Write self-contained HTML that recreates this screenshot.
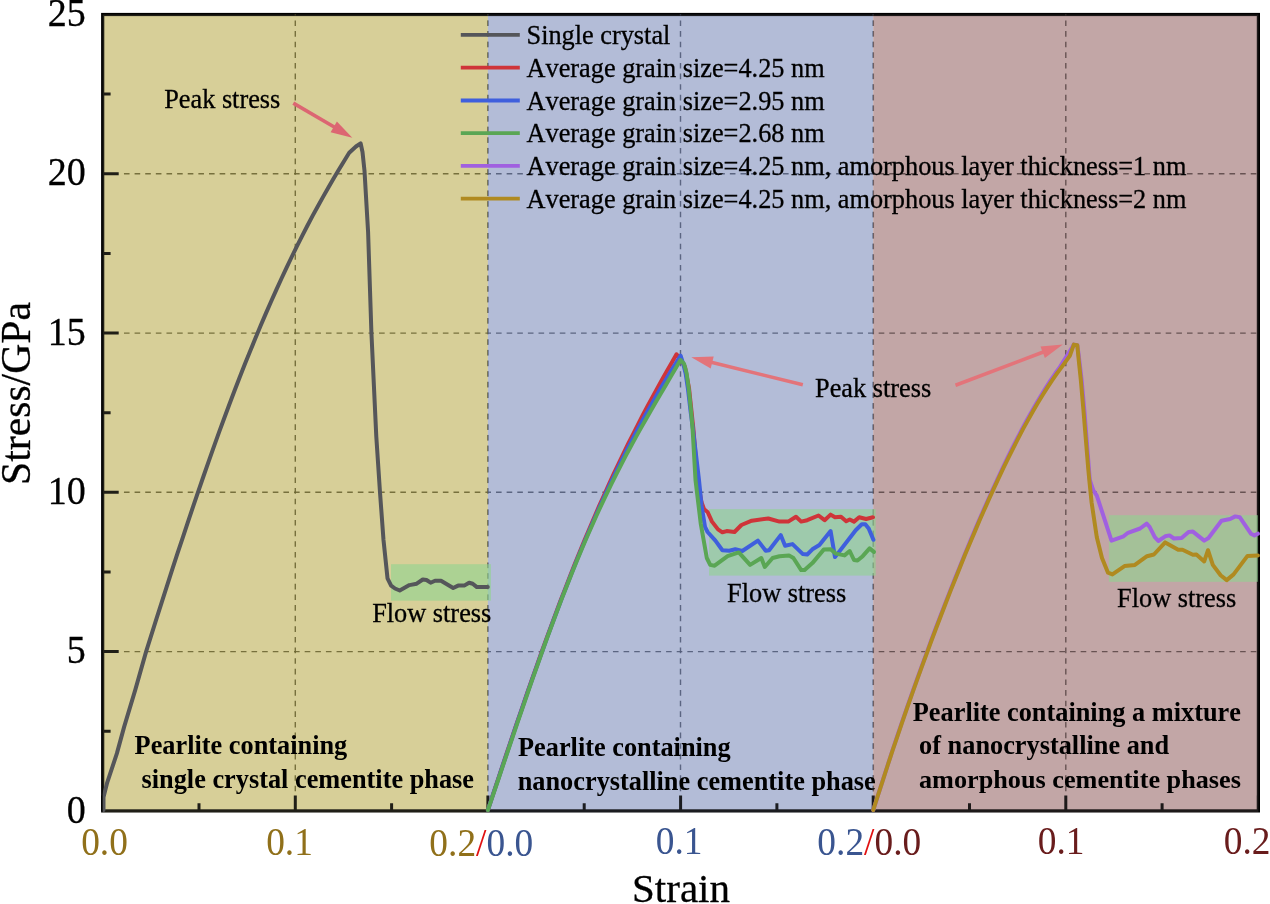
<!DOCTYPE html>
<html lang="en"><head><meta charset="utf-8"><title>Stress-strain curves</title>
<style>html,body{margin:0;padding:0;background:#fff}body{width:1270px;height:904px;overflow:hidden}svg{display:block}.k{stroke:#000;stroke-width:.3px}text{font-family:"Liberation Serif",serif;font-kerning:none;font-variant-ligatures:none}</style></head><body>
<svg width="1270" height="904" viewBox="0 0 1270 904">
<rect width="1270" height="904" fill="#fff"/>
<rect x="102.7" y="14.5" width="385.2" height="796.4" fill="#d7cf98"/>
<rect x="487.9" y="14.5" width="385.3" height="796.4" fill="#b3bdd8"/>
<rect x="873.2" y="14.5" width="385.2" height="796.4" fill="#c2a6a6"/>
<path d="M102.7 651.6h16M102.7 492.3h16M102.7 333.1h16M102.7 173.8h16M102.7 731.3h7.9M102.7 572.0h7.9M102.7 412.7h7.9M102.7 253.4h7.9M102.7 94.1h7.9M102.7 810.9v-15.5M199.0 810.9v-7.7M295.3 810.9v-15.5M391.6 810.9v-7.7M487.9 810.9v-15.5M584.2 810.9v-7.7M680.6 810.9v-15.5M776.9 810.9v-7.7M873.2 810.9v-15.5M969.5 810.9v-7.7M1065.8 810.9v-15.5M1162.1 810.9v-7.7M1258.4 810.9v-15.5" fill="none" stroke="#000" stroke-width="3"/>
<rect x="102.7" y="14.5" width="1155.7" height="796.4" fill="none" stroke="#000" stroke-width="3.2"/>
<rect x="102.7" y="14.5" width="385.2" height="798.0" fill="#d7cf98" fill-opacity="0.15"/>
<rect x="487.9" y="14.5" width="385.3" height="798.0" fill="#b3bdd8" fill-opacity="0.15"/>
<rect x="873.2" y="14.5" width="385.2" height="798.0" fill="#c2a6a6" fill-opacity="0.15"/>
<path d="M123.96 651.6H487.9M123.96 492.3H487.9M123.96 333.1H487.9M123.96 173.8H487.9" fill="none" stroke="#6a6330" stroke-opacity="0.88" stroke-width="1.4" stroke-dasharray="5.6 5.03" stroke-dashoffset="0.00"/>
<path d="M295.3 14.5V794.4" fill="none" stroke="#6a6330" stroke-opacity="0.88" stroke-width="1.4" stroke-dashoffset="4.73" stroke-dasharray="5.6 5.03"/>
<path d="M487.54 14.5V794.4" fill="none" stroke="#6a6330" stroke-opacity="1" stroke-width="0.75" stroke-dashoffset="4.73" stroke-dasharray="5.6 5.03"/>
<path d="M487.90 651.6H873.2M487.90 492.3H873.2M487.90 333.1H873.2M487.90 173.8H873.2" fill="none" stroke="#4f5975" stroke-opacity="0.88" stroke-width="1.4" stroke-dasharray="5.6 5.03" stroke-dashoffset="2.52"/>
<path d="M680.5 14.5V794.4" fill="none" stroke="#4f5975" stroke-opacity="0.88" stroke-width="1.4" stroke-dashoffset="4.73" stroke-dasharray="5.6 5.03"/>
<path d="M488.26 14.5V794.4M872.84 14.5V794.4" fill="none" stroke="#4f5975" stroke-opacity="1" stroke-width="0.75" stroke-dashoffset="4.73" stroke-dasharray="5.6 5.03"/>
<path d="M873.20 651.6H1258.4M873.20 492.3H1258.4M873.20 333.1H1258.4M873.20 173.8H1258.4" fill="none" stroke="#5a4747" stroke-opacity="0.88" stroke-width="1.4" stroke-dasharray="5.6 5.03" stroke-dashoffset="5.14"/>
<path d="M1065.8 14.5V794.4" fill="none" stroke="#5a4747" stroke-opacity="0.88" stroke-width="1.4" stroke-dashoffset="4.73" stroke-dasharray="5.6 5.03"/>
<path d="M873.56 14.5V794.4" fill="none" stroke="#5a4747" stroke-opacity="1" stroke-width="0.75" stroke-dashoffset="4.73" stroke-dasharray="5.6 5.03"/>
<rect x="391" y="564.2" width="100" height="36.5" fill="#8fd48f" fill-opacity="0.6"/>
<rect x="709" y="509.1" width="166.7" height="66.5" fill="#8fd48f" fill-opacity="0.6"/>
<rect x="1108.9" y="515.2" width="149" height="66.6" fill="#8fd48f" fill-opacity="0.6"/>
<g clip-path="url(#cp)">
<polyline points="103.5,810.0 103.5,797.2 107.2,782.6 116.9,753.4 124.2,726.6 135.2,690.1 146.1,651.6 151.3,635.1 156.5,618.7 161.7,602.3 166.9,586.1 172.1,569.9 177.3,553.9 182.6,538.1 187.8,522.4 193.0,506.9 198.2,491.6 203.4,476.5 208.6,461.6 213.8,446.9 219.0,432.4 224.2,418.2 229.4,404.2 234.6,390.5 239.8,377.0 245.0,363.7 250.3,350.8 255.5,338.1 260.7,325.6 265.9,313.4 271.1,301.5 276.3,289.9 281.5,278.5 286.7,267.4 291.9,256.5 297.1,245.9 302.3,235.6 307.5,225.5 312.7,215.6 318.0,206.0 323.2,196.6 328.4,187.5 333.6,178.5 338.8,169.7 344.0,161.2 349.2,152.8 356.0,146.5 360.6,143.3 362.5,152.0 364.5,170.9 368.1,232.2 371.4,332.5 376.3,436.7 380.0,492.3 383.5,540.0 387.5,578.3 391.1,585.6 395.0,588.5 399.7,590.5 409.4,585.1 416.7,583.7 422.8,579.5 426.5,580.0 430.6,582.7 435.0,580.7 441.0,580.7 453.2,588.0 458.1,585.6 464.2,585.6 469.1,582.7 472.7,583.7 476.9,587.1 487.8,587.1" fill="none" stroke="#55565a" stroke-width="4.0" stroke-linejoin="round" stroke-linecap="round"/>
<polyline points="487.9,810.0 492.7,795.3 497.6,780.7 502.4,766.1 507.2,751.6 512.1,737.2 516.9,722.9 521.8,708.8 526.6,694.7 531.4,680.8 536.3,667.1 541.1,653.5 545.9,640.1 550.8,626.9 555.6,613.9 560.4,601.0 565.3,588.4 570.1,576.0 574.9,563.8 579.8,551.8 584.6,540.1 589.5,528.5 594.3,517.2 599.1,506.1 604.0,495.2 608.8,484.5 613.6,474.1 618.5,463.8 623.3,453.8 628.1,443.9 633.0,434.3 637.8,424.8 642.6,415.5 647.5,406.3 652.3,397.4 657.2,388.5 662.0,379.8 666.8,371.2 671.7,362.7 676.5,354.3 681.0,360.0 685.0,367.0 689.0,388.0 693.5,430.0 697.5,480.0 701.6,502.5 704.2,509.4 707.6,512.0 712.0,521.6 718.0,529.4 722.4,532.3 726.7,531.1 734.5,532.0 741.4,525.0 751.8,520.7 768.3,518.5 779.5,521.6 788.2,521.6 796.0,516.7 801.2,521.6 807.2,520.2 818.5,515.5 824.6,520.2 830.6,514.6 835.0,517.2 841.0,516.7 846.2,521.2 849.7,519.5 854.0,521.6 859.2,517.2 866.1,519.0 873.0,517.2" fill="none" stroke="#cf3439" stroke-width="4.0" stroke-linejoin="round" stroke-linecap="round"/>
<polyline points="487.9,810.0 492.8,795.1 497.8,780.3 502.7,765.5 507.7,750.8 512.6,736.1 517.5,721.6 522.5,707.2 527.4,692.9 532.4,678.7 537.3,664.8 542.3,651.0 547.2,637.4 552.1,624.0 557.1,610.8 562.0,597.8 567.0,585.1 571.9,572.6 576.8,560.3 581.8,548.3 586.7,536.5 591.7,525.0 596.6,513.7 601.5,502.7 606.5,491.9 611.4,481.4 616.4,471.1 621.3,461.0 626.2,451.2 631.2,441.6 636.1,432.2 641.1,423.0 646.0,414.0 651.0,405.2 655.9,396.6 660.8,388.1 665.8,379.8 670.7,371.6 675.7,363.6 680.6,355.6 683.3,364.0 685.6,373.3 688.0,389.2 690.6,411.4 693.0,429.5 699.0,480.0 701.6,506.0 705.0,526.8 707.6,532.0 715.4,540.6 722.4,550.2 729.3,550.7 735.3,549.3 742.3,551.0 757.9,540.6 765.7,550.7 769.1,550.2 780.7,535.1 785.1,545.8 792.5,544.1 802.9,554.1 807.2,554.5 812.4,549.3 819.4,545.0 830.6,531.1 835.0,557.1 855.7,530.2 861.8,524.2 865.3,524.2 868.7,528.5 873.4,539.8" fill="none" stroke="#3f5fdd" stroke-width="4.0" stroke-linejoin="round" stroke-linecap="round"/>
<polyline points="487.9,810.0 492.8,795.6 497.8,781.0 502.7,766.4 507.6,751.8 512.6,737.2 517.5,722.7 522.5,708.2 527.4,693.8 532.3,679.6 537.3,665.6 542.2,651.7 547.1,638.0 552.1,624.6 557.0,611.4 561.9,598.4 566.9,585.7 571.8,573.3 576.7,561.2 581.7,549.3 586.6,537.8 591.6,526.5 596.5,515.5 601.4,504.8 606.4,494.4 611.3,484.2 616.2,474.3 621.2,464.6 626.1,455.2 631.0,446.0 636.0,436.9 640.9,428.1 645.8,419.4 650.8,410.8 655.7,402.3 660.7,393.8 665.6,385.4 670.5,377.0 675.5,368.5 680.4,360.0 684.0,363.6 686.6,373.3 688.8,389.2 691.1,411.4 692.6,429.0 695.5,480.0 700.7,523.3 706.8,558.0 710.2,564.9 714.6,565.7 727.6,556.2 738.8,552.4 750.1,564.9 761.3,558.0 764.8,567.0 772.6,558.0 779.5,556.2 789.0,555.4 793.4,558.0 801.2,570.1 804.6,570.1 812.4,563.1 823.7,549.6 830.6,549.3 835.8,553.6 844.5,555.4 849.7,551.0 854.0,560.0 857.5,560.5 862.7,556.2 869.6,548.4 873.9,551.9" fill="none" stroke="#5aa654" stroke-width="4.0" stroke-linejoin="round" stroke-linecap="round"/>
<polyline points="873.3,810.0 878.1,794.8 882.9,779.8 887.7,765.1 892.4,750.5 897.2,736.2 902.0,722.1 906.8,708.2 911.6,694.5 916.4,681.0 921.2,667.7 926.0,654.6 930.7,641.6 935.5,628.8 940.3,616.2 945.1,603.7 949.9,591.4 954.7,579.3 959.5,567.4 964.3,555.6 969.0,544.0 973.8,532.6 978.6,521.4 983.4,510.3 988.2,499.5 993.0,488.9 997.8,478.4 1002.6,468.2 1007.3,458.2 1012.1,448.5 1016.9,439.0 1021.7,429.8 1026.5,420.8 1031.3,412.1 1036.1,403.8 1040.9,395.7 1045.6,388.0 1050.4,380.6 1055.2,373.5 1060.0,366.9 1071.6,348.2 1073.8,344.6 1077.3,345.3 1078.8,355.9 1081.6,379.8 1084.3,409.6 1089.8,480.0 1093.3,490.4 1096.8,495.6 1111.5,540.6 1123.6,536.3 1128.0,532.8 1140.1,528.5 1146.7,523.7 1149.6,526.8 1154.8,537.2 1158.3,541.0 1165.2,536.3 1169.5,535.4 1173.9,538.5 1181.6,538.0 1188.6,532.0 1192.9,531.6 1204.2,540.6 1208.5,538.0 1221.5,520.7 1230.1,519.0 1235.3,516.4 1239.7,517.2 1250.9,533.7 1254.4,535.4 1257.9,533.7" fill="none" stroke="#a060e0" stroke-width="4.0" stroke-linejoin="round" stroke-linecap="round"/>
<polyline points="873.3,810.0 878.1,794.8 883.0,779.8 887.8,765.0 892.6,750.4 897.5,736.1 902.3,721.9 907.1,708.0 912.0,694.2 916.8,680.7 921.6,667.3 926.5,654.1 931.3,641.0 936.1,628.2 941.0,615.5 945.8,603.0 950.6,590.6 955.5,578.4 960.3,566.5 965.1,554.6 970.0,543.0 974.8,531.6 979.6,520.3 984.5,509.3 989.3,498.4 994.1,487.8 999.0,477.4 1003.8,467.2 1008.6,457.3 1013.5,447.6 1018.3,438.1 1023.1,428.9 1028.0,420.1 1032.8,411.5 1037.6,403.2 1042.5,395.2 1047.3,387.6 1052.1,380.3 1057.0,373.4 1061.8,366.9 1069.8,355.9 1073.8,344.6 1077.3,345.3 1078.3,355.9 1080.8,379.8 1083.4,409.6 1088.3,469.3 1089.5,482.0 1091.6,502.5 1096.8,537.2 1102.0,558.0 1108.0,572.7 1112.4,574.4 1124.5,566.1 1134.9,564.9 1147.0,556.2 1153.9,554.5 1165.2,542.4 1178.2,549.8 1182.5,549.8 1192.9,554.8 1196.4,554.5 1204.2,561.4 1208.0,550.2 1212.8,564.9 1220.6,575.3 1226.7,580.1 1233.6,574.4 1247.5,555.9 1257.9,555.4" fill="none" stroke="#b08a20" stroke-width="4.0" stroke-linejoin="round" stroke-linecap="round"/>
</g>
<defs><clipPath id="cp"><rect x="102.7" y="14.5" width="1157.7" height="797.4"/></clipPath></defs>
<line x1="460.8" y1="34.8" x2="519.8" y2="34.8" stroke="#55565a" stroke-width="3.8"/>
<text x="526.5" y="44.0" font-size="26.3" fill="#000" class="k">Single crystal</text>
<line x1="460.8" y1="67.7" x2="519.8" y2="67.7" stroke="#cf3439" stroke-width="3.8"/>
<text x="526.5" y="76.9" font-size="26.3" fill="#000" class="k">Average grain size=4.25 nm</text>
<line x1="460.8" y1="100.5" x2="519.8" y2="100.5" stroke="#3f5fdd" stroke-width="3.8"/>
<text x="526.5" y="109.7" font-size="26.3" fill="#000" class="k">Average grain size=2.95 nm</text>
<line x1="460.8" y1="133.1" x2="519.8" y2="133.1" stroke="#5aa654" stroke-width="3.8"/>
<text x="526.5" y="142.3" font-size="26.3" fill="#000" class="k">Average grain size=2.68 nm</text>
<line x1="460.8" y1="165.8" x2="519.8" y2="165.8" stroke="#a060e0" stroke-width="3.8"/>
<text x="526.5" y="175.0" font-size="26.3" fill="#000" class="k">Average grain size=4.25 nm, amorphous layer thickness=1 nm</text>
<line x1="460.8" y1="198.6" x2="519.8" y2="198.6" stroke="#b08a20" stroke-width="3.8"/>
<text x="526.5" y="207.8" font-size="26.3" fill="#000" class="k">Average grain size=4.25 nm, amorphous layer thickness=2 nm</text>
<line x1="293.3" y1="103.1" x2="335.5" y2="127.8" stroke="#dc6672" stroke-width="3.6"/><polygon points="352.3,137.7 330.6,132.2 336.9,121.4" fill="#dc6672"/>
<line x1="802.8" y1="384.8" x2="710.2" y2="362.0" stroke="#e3747a" stroke-width="3.6"/><polygon points="691.3,357.3 713.7,356.4 710.7,368.5" fill="#e3747a"/>
<line x1="955.5" y1="385.3" x2="1044.6" y2="351.5" stroke="#e3747a" stroke-width="3.6"/><polygon points="1062.8,344.6 1044.9,358.1 1040.5,346.4" fill="#e3747a"/>
<text x="164.2" y="107.8" font-size="26.3" fill="#000" class="k">Peak stress</text>
<text x="815" y="396.5" font-size="26.3" fill="#000" class="k">Peak stress</text>
<text x="372.2" y="622.3" font-size="26.3" fill="#000" class="k">Flow stress</text>
<text x="727.1" y="601.7" font-size="26.3" fill="#000" class="k">Flow stress</text>
<text x="1117.1" y="606.7" font-size="26.3" fill="#000" class="k">Flow stress</text>
<text x="134.6" y="754.2" font-size="26.32" font-weight="bold" fill="#000">Pearlite containing</text>
<text x="141.5" y="788" font-size="26.32" font-weight="bold" fill="#000">single crystal cementite phase</text>
<text x="518" y="756" font-size="26.32" font-weight="bold" fill="#000">Pearlite containing</text>
<text x="517.7" y="790" font-size="26.32" font-weight="bold" fill="#000">nanocrystalline cementite phase</text>
<text x="912.8" y="720.9" font-size="26.32" font-weight="bold" fill="#000">Pearlite containing a mixture</text>
<text x="919.1" y="754.1" font-size="26.32" font-weight="bold" fill="#000">of nanocrystalline and</text>
<text x="919" y="788" font-size="26.22" font-weight="bold" fill="#000">amorphous cementite phases</text>
<text transform="translate(85.8,822.5) scale(1,1.045)" font-size="38" text-anchor="end" fill="#000" class="k">0</text>
<text transform="translate(85.8,663.2) scale(1,1.045)" font-size="38" text-anchor="end" fill="#000" class="k">5</text>
<text transform="translate(85.8,503.9) scale(1,1.045)" font-size="38" text-anchor="end" fill="#000" class="k">10</text>
<text transform="translate(85.8,344.7) scale(1,1.045)" font-size="38" text-anchor="end" fill="#000" class="k">15</text>
<text transform="translate(85.8,185.4) scale(1,1.045)" font-size="38" text-anchor="end" fill="#000" class="k">20</text>
<text transform="translate(85.8,26.1) scale(1,1.045)" font-size="38" text-anchor="end" fill="#000" class="k">25</text>
<text transform="translate(104.5,855.0) scale(1,1.05)" font-size="37.4" text-anchor="middle" fill="#90701a">0.0</text>
<text transform="translate(289.5,854.6) scale(1,1.05)" font-size="37.4" text-anchor="middle" fill="#90701a">0.1</text>
<text transform="translate(481.3,855.6) scale(1,1.05)" font-size="37.4" text-anchor="middle"><tspan fill="#90701a">0.2</tspan><tspan fill="#e01010">/</tspan><tspan fill="#3a5590">0.0</tspan></text>
<text transform="translate(679.2,854.4) scale(1,1.05)" font-size="37.4" text-anchor="middle" fill="#3a5590">0.1</text>
<text transform="translate(869.3,854.9) scale(1,1.05)" font-size="37.4" text-anchor="middle"><tspan fill="#3a5590">0.2</tspan><tspan fill="#e01010">/</tspan><tspan fill="#691c1c">0.0</tspan></text>
<text transform="translate(1061.2,854.3) scale(1,1.05)" font-size="37.4" text-anchor="middle" fill="#691c1c">0.1</text>
<text transform="translate(1270.5,854.3) scale(1,1.05)" font-size="37.4" text-anchor="end" fill="#691c1c">0.2</text>
<text x="681" y="901.5" font-size="41" text-anchor="middle" fill="#000" class="k">Strain</text>
<text transform="translate(29.8,393.5) rotate(-90)" font-size="41.7" text-anchor="middle" fill="#000" class="k">Stress/GPa</text>
</svg></body></html>
